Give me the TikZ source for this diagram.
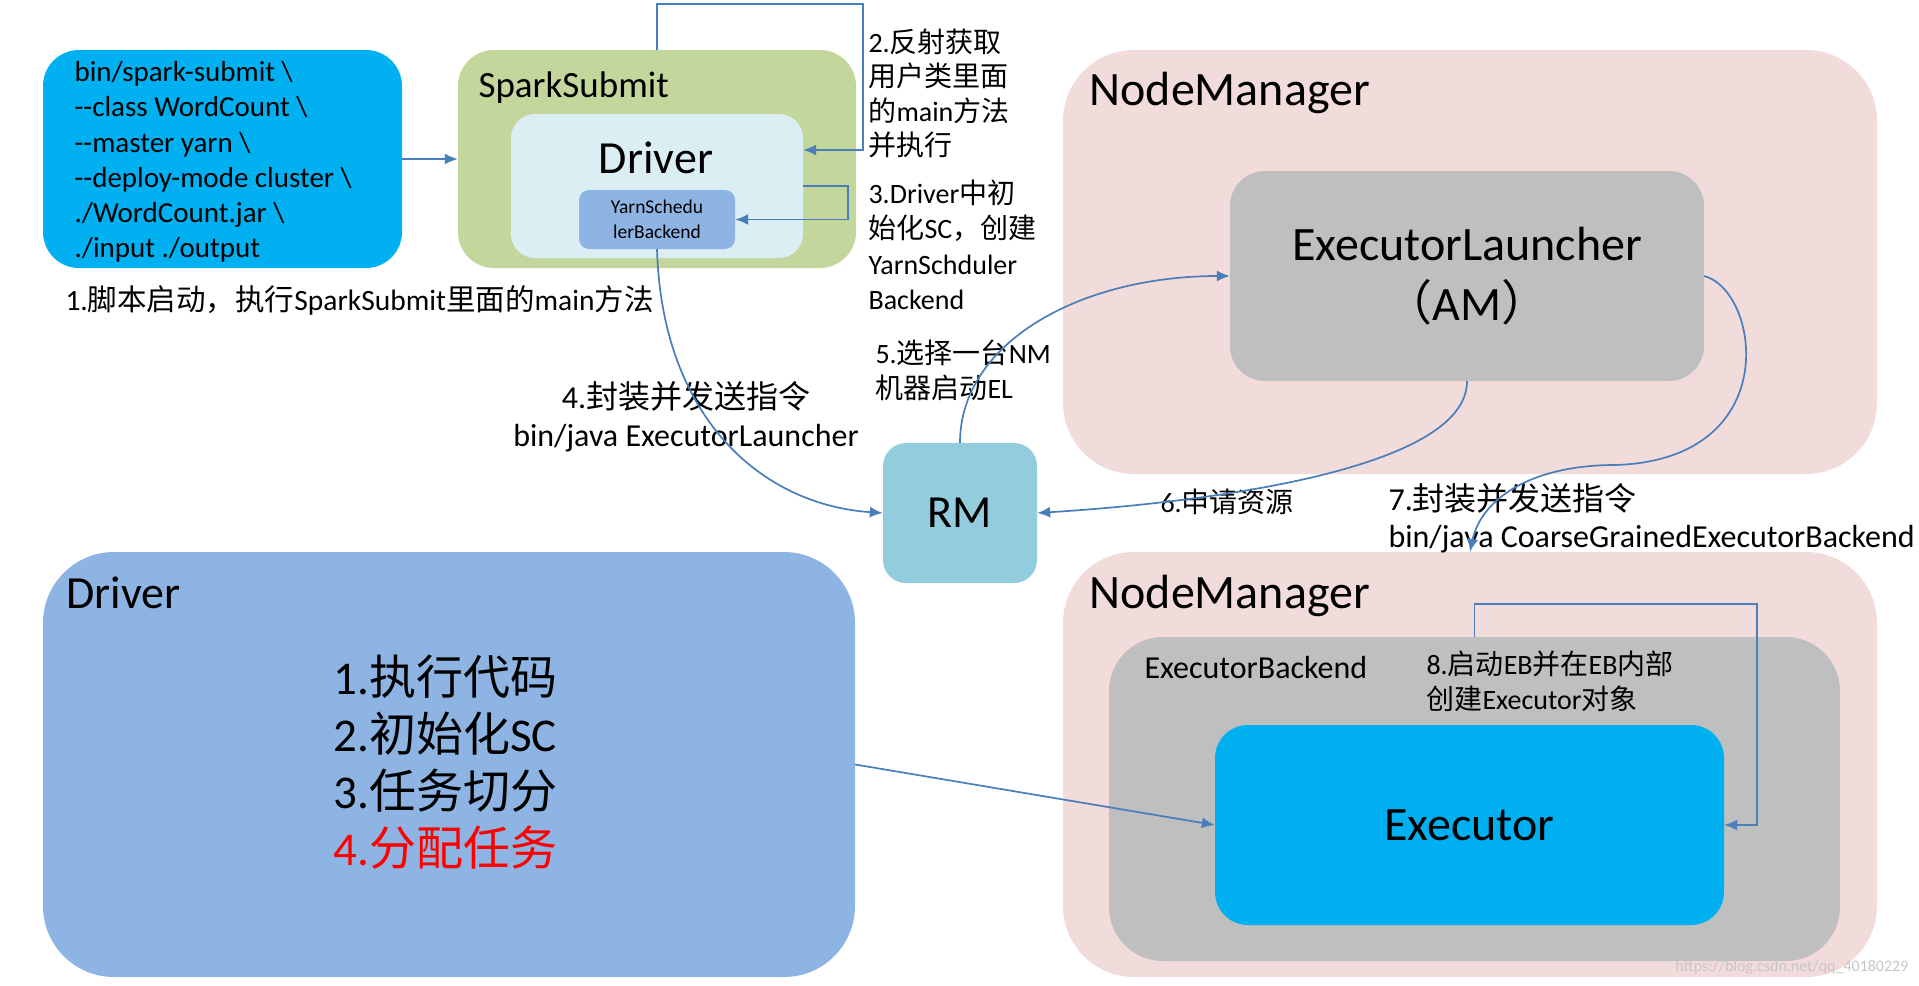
\documentclass[tikz,border=0pt]{standalone}
\usepackage{fontspec}
\setmainfont{Carlito}[Ligatures=TeXOff]
\newfontfamily\cjk{Noto Sans CJK SC}
\newcommand{\zh}[1]{{\cjk #1}}
\newcommand{\fs}[2]{\fontsize{#1}{#2}\selectfont}
\usetikzlibrary{arrows.meta}
\definecolor{cmdblue}{HTML}{00B0F0}
\definecolor{ssgreen}{HTML}{C3D69B}
\definecolor{drvlight}{HTML}{DBEEF4}
\definecolor{ysbblue}{HTML}{8EB4E3}
\definecolor{rmblue}{HTML}{93CDDD}
\definecolor{nmpink}{HTML}{F2DCDB}
\definecolor{elgray}{HTML}{BFBFBF}
\definecolor{flowblue}{HTML}{4A7EBB}
\tikzset{>={Latex[length=13pt,width=11pt]},
  box/.style={rectangle, inner sep=0pt},
  flow/.style={flowblue, line width=1.7pt, ->}
}

\begin{document}
\begin{tikzpicture}[x=1pt, y=-1pt]
\useasboundingbox (0,0) rectangle (1919,985);
% boxes
\node[box, fill=cmdblue, minimum width=359pt, minimum height=218pt, rounded corners=36pt] (cmd) at (222.5,159) {};
\node[box, fill=ssgreen, minimum width=398pt, minimum height=218pt, rounded corners=36pt] (ss) at (657,159) {};
\node[box, fill=drvlight, minimum width=292pt, minimum height=144pt, rounded corners=24pt] (drvin) at (657,186) {};
\node[box, fill=ysbblue, minimum width=156pt, minimum height=59pt, rounded corners=10pt,
  align=center, font=\fs{19.5}{25.5}] (ysb) at (657,219.5) {YarnSchedu\\lerBackend};
\node[box, fill=rmblue, minimum width=154pt, minimum height=140pt, rounded corners=23pt, font=\fs{46}{50}] (rm) at (960,513) {RM};
\node[box, fill=nmpink, minimum width=814pt, minimum height=424pt, rounded corners=71pt] (nmtop) at (1470,262) {};
\node[box, fill=elgray, minimum width=474pt, minimum height=210pt, rounded corners=35pt,
  align=center, font=\fs{48}{60}] (el) at (1467,276) {ExecutorLauncher\\\zh{（}AM\zh{）}};
\node[box, fill=ysbblue, minimum width=812pt, minimum height=425pt, rounded corners=71pt] (drv) at (449,764.5) {};
\node[box, fill=nmpink, minimum width=814pt, minimum height=425pt, rounded corners=71pt] (nmbot) at (1470,764.5) {};
\node[box, fill=elgray, minimum width=731pt, minimum height=324pt, rounded corners=54pt] (eb) at (1474.5,799) {};
\node[box, fill=cmdblue, minimum width=509pt, minimum height=200pt, rounded corners=33pt, font=\fs{48}{52}] (exe) at (1469.5,825) {Executor};

% box texts
\node[anchor=west, align=left, font=\fs{29}{35.3}] (cmdtext) at (71,162)
  {bin/spark-submit \textbackslash\\--class WordCount \textbackslash\\--master yarn \textbackslash\\
   --deploy-mode cluster \textbackslash\\./WordCount.jar \textbackslash\\./input ./output};
\node[anchor=base west, font=\fs{37}{42}] (sstitle) at (475,97) {SparkSubmit};
\node[anchor=base, font=\fs{46}{50}] (drvintitle) at (656,173) {Driver};
\node[anchor=base west, font=\fs{48}{55}] (nmtoptitle) at (1086,105) {NodeManager};
\node[anchor=base west, font=\fs{46}{50}] (drvtitle) at (63,608) {Driver};
\node[anchor=base west, font=\fs{48}{55}] (nmbottitle) at (1086,608) {NodeManager};
\node[anchor=base west, font=\fs{32}{37}] (ebtitle) at (1141,678) {ExecutorBackend};
\node[anchor=north west, align=left, font=\fs{47}{57}] (steps) at (330,651)
  {1.\zh{执行代码}\\2.\zh{初始化}SC\\3.\zh{任务切分}\\\textcolor{red}{4.\zh{分配任务}}};

% step labels
\node[anchor=west, font=\fs{29.5}{35}] (lab1) at (62,300) {1.\zh{脚本启动，执行}SparkSubmit\zh{里面的}main\zh{方法}};
\node[anchor=north west, align=left, font=\fs{28}{34.5}] (lab2) at (865,25)
  {2.\zh{反射获取}\\\zh{用户类里面}\\\zh{的}main\zh{方法}\\\zh{并执行}};
\node[anchor=north west, align=left, font=\fs{28}{35.5}] (lab3) at (865,176)
  {3.Driver\zh{中初}\\\zh{始化}SC\zh{，创建}\\YarnSchduler\\Backend};
\node[anchor=north, align=center, font=\fs{32}{38}] (lab4) at (686,378)
  {4.\zh{封装并发送指令}\\bin/java ExecutorLauncher};
\node[anchor=north west, align=left, font=\fs{28}{35}] (lab5) at (872,336)
  {5.\zh{选择一台}NM\\\zh{机器启动}EL};
\node[anchor=west, font=\fs{28}{34}] (lab6) at (1157,502) {6.\zh{申请资源}};
\node[anchor=north west, align=left, font=\fs{32}{37}] (lab7) at (1385,480)
  {7.\zh{封装并发送指令}\\bin/java CoarseGrainedExecutorBackend};
\node[anchor=north west, align=left, font=\fs{28}{35}] (lab8) at (1423,647)
  {8.\zh{启动}EB\zh{并在}EB\zh{内部}\\\zh{创建}Executor\zh{对象}};
\node[anchor=east, text=gray!45, font=\fs{16}{18}] (mark) at (1912,967) {https://blog.csdn.net/qq\_40180229};

% connectors
\coordinate (loop2) at (863,4);
\coordinate (loop3) at (848,219.5);
\coordinate (loop8) at (1757,604);
\coordinate (bend7) at (1615,465);
\draw[flow] (cmd.east) -- (ss.west);
\draw[flow] (ss.north) |- (loop2) |- ([yshift=36pt]drvin.east);
\draw[flow] (drvin.east) -| (loop3) -- (ysb.east);
\draw[flow] (ysb.south) .. controls +(5,170) and +(-120,-8) .. (rm.west);
\draw[flow] (rm.north) .. controls +(0,-100) and +(-150,0) .. (el.west);
\draw[flow] (el.south) .. controls +(0,90) and +(160,-10) .. (rm.east);
\draw[flow] (el.east) .. controls +(56,15) and +(170,-5) .. (bend7) .. controls +(-85,0) and +(11,-52) .. (nmbot.north);
\draw[flow] (eb.north) |- (loop8) |- (exe.east);
\draw[flow] (drv.east) -- (exe.west);
\end{tikzpicture}
\end{document}
